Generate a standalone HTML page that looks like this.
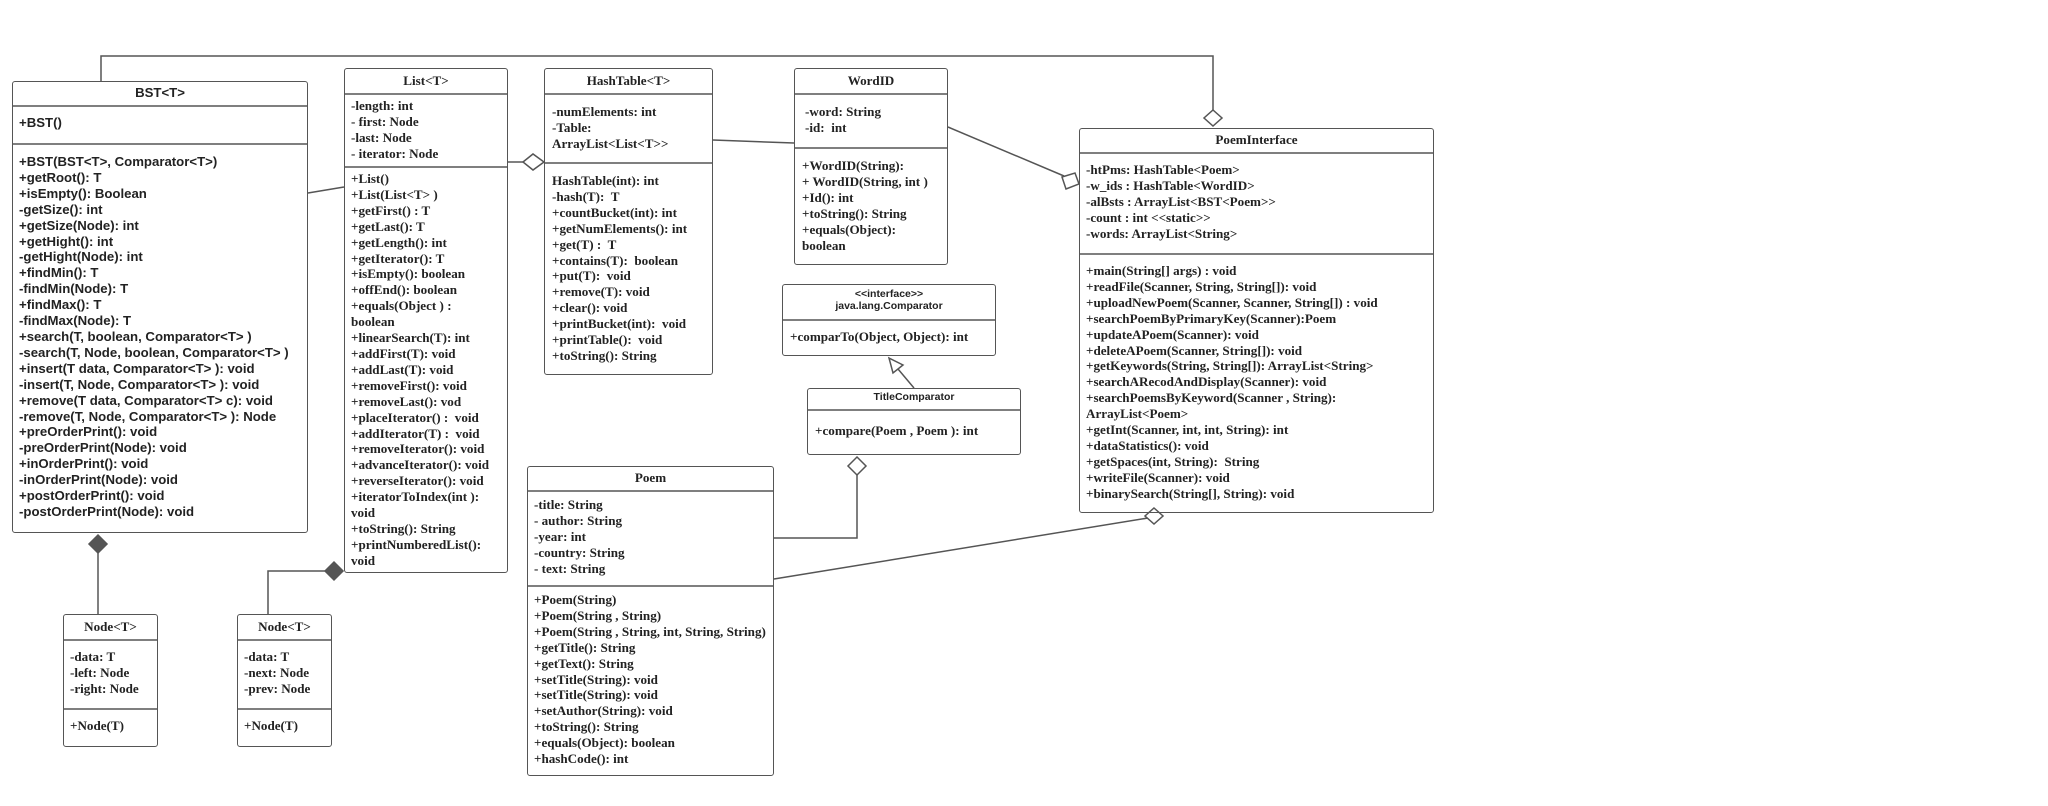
<!DOCTYPE html>
<html><head><meta charset="utf-8"><style>
body{margin:0;background:#fff;}
#c{position:relative;width:2048px;height:806px;overflow:hidden;background:#fff;}
.box{position:absolute;border:1.6px solid #555;border-radius:3px;box-sizing:border-box;}
.t{position:absolute;white-space:pre;font-family:"Liberation Serif",serif;font-weight:bold;font-size:13.1px;line-height:15.9px;color:#222;}
.s{font-family:"Liberation Sans",sans-serif;font-size:13.2px;}
.h{text-align:center;}
svg{position:absolute;left:0;top:0;}
</style></head><body><div id="c">
<svg width="2048" height="806" stroke="#555" stroke-width="1.5" fill="none">
<line x1="12" y1="106" x2="308" y2="106"/><line x1="12" y1="144" x2="308" y2="144"/>
<line x1="344" y1="94" x2="508" y2="94"/><line x1="344" y1="167" x2="508" y2="167"/>
<line x1="544" y1="94" x2="713" y2="94"/><line x1="544" y1="163" x2="713" y2="163"/>
<line x1="794" y1="94" x2="948" y2="94"/><line x1="794" y1="148" x2="948" y2="148"/>
<line x1="782" y1="320" x2="996" y2="320"/>
<line x1="807" y1="410" x2="1021" y2="410"/>
<line x1="527" y1="491" x2="774" y2="491"/><line x1="527" y1="586" x2="774" y2="586"/>
<line x1="1079" y1="153" x2="1434" y2="153"/><line x1="1079" y1="254" x2="1434" y2="254"/>
<line x1="63" y1="640" x2="158" y2="640"/><line x1="63" y1="709" x2="158" y2="709"/>
<line x1="237" y1="640" x2="332" y2="640"/><line x1="237" y1="709" x2="332" y2="709"/>
<polyline points="101,81 101,56 1213,56 1213,110"/>
<polygon points="1213,110 1222,118 1213,126 1204,118" fill="#fff"/>
<line x1="308" y1="193" x2="344" y2="187"/>
<line x1="508" y1="162" x2="523" y2="162"/>
<polygon points="523,162 533,154 544,162 533,170" fill="#fff"/>
<line x1="713" y1="140" x2="794" y2="143"/>
<line x1="948" y1="127" x2="1064" y2="176"/>
<polygon points="1062,177 1075,173 1079,184 1066,189" fill="#fff"/>
<polygon points="98,535 107,544 98,553 89,544" fill="#555"/>
<line x1="98" y1="553" x2="98" y2="614"/>
<polygon points="325,571 334,562 343,571 334,580" fill="#555"/>
<polyline points="325,571 268,571 268,614"/>
<line x1="914" y1="388" x2="898" y2="369"/>
<polygon points="889,358 903,365 893,373" fill="#fff"/>
<polygon points="857,457 866,466 857,475 848,466" fill="#fff"/>
<polyline points="857,475 857,538 774,538"/>
<line x1="774" y1="579" x2="1148" y2="518"/>
<polygon points="1154,508 1163,516 1154,524 1145,516" fill="#fff"/>
</svg>

<div class="box" style="left:12px;top:81px;width:296px;height:452px"></div>
<div class="t s h" style="left:12px;top:85px;width:296px">BST&lt;T&gt;</div>
<div class="t s" style="left:19px;top:115px">+BST()</div>
<div class="t s" style="left:19px;top:154px">+BST(BST&lt;T&gt;, Comparator&lt;T&gt;)
+getRoot(): T
+isEmpty(): Boolean
-getSize(): int
+getSize(Node): int
+getHight(): int
-getHight(Node): int
+findMin(): T
-findMin(Node): T
+findMax(): T
-findMax(Node): T
+search(T, boolean, Comparator&lt;T&gt; )
-search(T, Node, boolean, Comparator&lt;T&gt; )
+insert(T data, Comparator&lt;T&gt; ): void
-insert(T, Node, Comparator&lt;T&gt; ): void
+remove(T data, Comparator&lt;T&gt; c): void
-remove(T, Node, Comparator&lt;T&gt; ): Node
+preOrderPrint(): void
-preOrderPrint(Node): void
+inOrderPrint(): void
-inOrderPrint(Node): void
+postOrderPrint(): void
-postOrderPrint(Node): void</div>

<div class="box" style="left:344px;top:68px;width:164px;height:505px"></div>
<div class="t h" style="left:344px;top:73px;width:164px">List&lt;T&gt;</div>
<div class="t" style="left:351px;top:98px">-length: int
- first: Node
-last: Node
- iterator: Node</div>
<div class="t" style="left:351px;top:171px">+List()
+List(List&lt;T&gt; )
+getFirst() : T
+getLast(): T
+getLength(): int
+getIterator(): T
+isEmpty(): boolean
+offEnd(): boolean
+equals(Object ) :
boolean
+linearSearch(T): int
+addFirst(T): void
+addLast(T): void
+removeFirst(): void
+removeLast(): vod
+placeIterator() :  void
+addIterator(T) :  void
+removeIterator(): void
+advanceIterator(): void
+reverseIterator(): void
+iteratorToIndex(int ):
void
+toString(): String
+printNumberedList():
void</div>

<div class="box" style="left:544px;top:68px;width:169px;height:307px"></div>
<div class="t h" style="left:544px;top:73px;width:169px">HashTable&lt;T&gt;</div>
<div class="t" style="left:552px;top:104px">-numElements: int
-Table:
ArrayList&lt;List&lt;T&gt;&gt;</div>
<div class="t" style="left:552px;top:173px">HashTable(int): int
-hash(T):  T
+countBucket(int): int
+getNumElements(): int
+get(T) :  T
+contains(T):  boolean
+put(T):  void
+remove(T): void
+clear(): void
+printBucket(int):  void
+printTable():  void
+toString(): String</div>

<div class="box" style="left:794px;top:68px;width:154px;height:197px"></div>
<div class="t h" style="left:794px;top:73px;width:154px">WordID</div>
<div class="t" style="left:805px;top:104px">-word: String
-id:  int</div>
<div class="t" style="left:802px;top:158px">+WordID(String):
+ WordID(String, int )
+Id(): int
+toString(): String
+equals(Object):
boolean</div>

<div class="box" style="left:782px;top:284px;width:214px;height:72px"></div>
<div class="t s h" style="left:782px;top:288px;width:214px;font-size:10.5px;line-height:12px">&lt;&lt;interface&gt;&gt;
java.lang.Comparator</div>
<div class="t" style="left:790px;top:329px">+comparTo(Object, Object): int</div>

<div class="box" style="left:807px;top:388px;width:214px;height:67px"></div>
<div class="t s h" style="left:807px;top:390px;width:214px;font-size:10.5px">TitleComparator</div>
<div class="t" style="left:815px;top:423px">+compare(Poem , Poem ): int</div>

<div class="box" style="left:527px;top:466px;width:247px;height:310px"></div>
<div class="t h" style="left:527px;top:470px;width:247px">Poem</div>
<div class="t" style="left:534px;top:497px">-title: String
- author: String
-year: int
-country: String
- text: String</div>
<div class="t" style="left:534px;top:592px">+Poem(String)
+Poem(String , String)
+Poem(String , String, int, String, String)
+getTitle(): String
+getText(): String
+setTitle(String): void
+setTitle(String): void
+setAuthor(String): void
+toString(): String
+equals(Object): boolean
+hashCode(): int</div>

<div class="box" style="left:1079px;top:128px;width:355px;height:385px"></div>
<div class="t h" style="left:1079px;top:132px;width:355px">PoemInterface</div>
<div class="t" style="left:1086px;top:162px">-htPms: HashTable&lt;Poem&gt;
-w_ids : HashTable&lt;WordID&gt;
-alBsts : ArrayList&lt;BST&lt;Poem&gt;&gt;
-count : int &lt;&lt;static&gt;&gt;
-words: ArrayList&lt;String&gt;</div>
<div class="t" style="left:1086px;top:263px">+main(String[] args) : void
+readFile(Scanner, String, String[]): void
+uploadNewPoem(Scanner, Scanner, String[]) : void
+searchPoemByPrimaryKey(Scanner):Poem
+updateAPoem(Scanner): void
+deleteAPoem(Scanner, String[]): void
+getKeywords(String, String[]): ArrayList&lt;String&gt;
+searchARecodAndDisplay(Scanner): void
+searchPoemsByKeyword(Scanner , String):
ArrayList&lt;Poem&gt;
+getInt(Scanner, int, int, String): int
+dataStatistics(): void
+getSpaces(int, String):  String
+writeFile(Scanner): void
+binarySearch(String[], String): void</div>

<div class="box" style="left:63px;top:614px;width:95px;height:133px"></div>
<div class="t h" style="left:63px;top:619px;width:95px">Node&lt;T&gt;</div>
<div class="t" style="left:70px;top:649px">-data: T
-left: Node
-right: Node</div>
<div class="t" style="left:70px;top:718px">+Node(T)</div>

<div class="box" style="left:237px;top:614px;width:95px;height:133px"></div>
<div class="t h" style="left:237px;top:619px;width:95px">Node&lt;T&gt;</div>
<div class="t" style="left:244px;top:649px">-data: T
-next: Node
-prev: Node</div>
<div class="t" style="left:244px;top:718px">+Node(T)</div>
</div></body></html>
